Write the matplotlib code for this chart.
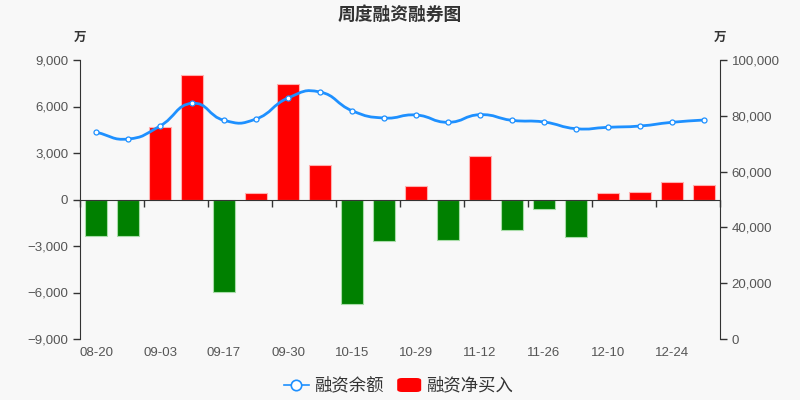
import matplotlib
matplotlib.use("Agg")
import matplotlib.pyplot as plt
import numpy as np
from matplotlib.path import Path
from matplotlib.patches import PathPatch, FancyBboxPatch
from matplotlib.lines import Line2D
from matplotlib.ticker import FuncFormatter, FixedLocator
import matplotlib.transforms as mtransforms

plt.rcParams['font.family'] = ['Liberation Sans', 'Noto Sans CJK SC', 'DejaVu Sans']

dates = ["08-20", "08-27", "09-03", "09-10", "09-17", "09-24", "09-30", "10-08",
         "10-15", "10-22", "10-29", "11-05", "11-12", "11-19", "11-26", "12-03",
         "12-10", "12-17", "12-24", "12-31"]
net_buy = [-2330, -2350, 4680, 8030, -5990, 400, 7450, 2230,
           -6760, -2660, 870, -2640, 2810, -1990, -630, -2400,
           420, 480, 1150, 940]
balance = [74090, 71680, 76340, 84480, 78380, 78850, 86380, 88530,
           81830, 79210, 80290, 77670, 80400, 78380, 77780, 75380,
           75880, 76340, 77670, 78490]

BG = "#f8f8f8"
fig = plt.figure(figsize=(8, 4), dpi=100, facecolor=BG)
ax = fig.add_axes([0.1, 0.1525, 0.8, 0.6975], facecolor=BG)
ax2 = ax.twinx()

x = np.arange(len(dates))
colors = ["#ff0000" if v >= 0 else "#008000" for v in net_buy]
edges = ["#ffb0b0" if v >= 0 else "#a8dca8" for v in net_buy]
ax.bar(x, net_buy, width=0.69, color=colors, edgecolor=edges, linewidth=0.8, zorder=2)
ax.set_xlim(-0.5, len(dates) - 0.5)
ax.set_ylim(-9000, 9000)
ax2.set_ylim(0, 100000)

fmt = FuncFormatter(lambda v, p: f"{v:,.0f}".replace('-', '\u2212'))
ax.yaxis.set_major_locator(FixedLocator(np.arange(-9000, 9001, 3000)))
ax.yaxis.set_major_formatter(fmt)
ax2.yaxis.set_major_locator(FixedLocator(np.arange(0, 100001, 20000)))
ax2.yaxis.set_major_formatter(fmt)

for a in (ax, ax2):
    a.tick_params(axis='y', colors='#333333', labelcolor='#555555', labelsize=9.5, length=5, width=1)
    for s in a.spines.values():
        s.set_visible(False)
ax.spines['left'].set_visible(True)
ax.spines['left'].set_color('#333333')
ax2.spines['right'].set_visible(True)
ax2.spines['right'].set_color('#333333')

# x axis at zero
ax.spines['bottom'].set_visible(True)
ax.spines['bottom'].set_position(('data', 0))
ax.spines['bottom'].set_color('#333333')
ax.set_xticks(np.arange(-0.5, len(dates), 2))
ax.tick_params(axis='x', colors='#333333', length=5, width=1, labelbottom=False)
trans = mtransforms.blended_transform_factory(ax.transData, ax.transAxes)
for i in range(0, len(dates), 2):
    ax.text(x[i], -0.027, dates[i], transform=trans, ha='center', va='top',
            fontsize=9.5, color='#555555')

# smooth line (ECharts-like bezier)
pts = np.column_stack([x.astype(float), np.array(balance, dtype=float)])
verts = [tuple(pts[0])]
codes = [Path.MOVETO]
sm = 0.5
n = len(pts)
def ctrl(i):
    prev = pts[max(i - 1, 0)]
    nxt = pts[min(i + 1, n - 1)]
    v = (nxt - prev) * sm
    d0 = abs(pts[i][0] - prev[0])
    d1 = abs(nxt[0] - pts[i][0])
    s = d0 + d1
    return pts[i] - v * d0 / s, pts[i] + v * d1 / s
for i in range(n - 1):
    _, c1 = ctrl(i)
    c2, _ = ctrl(i + 1)
    verts += [tuple(c1), tuple(c2), tuple(pts[i + 1])]
    codes += [Path.CURVE4] * 3
patch = PathPatch(Path(verts, codes), facecolor='none', edgecolor='#1e90ff', lw=2, zorder=3)
ax2.add_patch(patch)
ax2.plot(x, balance, linestyle='none', marker='o', markersize=3.6, markerfacecolor='white',
         markeredgecolor='#1e90ff', markeredgewidth=0.9, zorder=4)

# unit labels
fig.text(0.1, 0.905, "万", ha='center', va='center', fontsize=9, color='#333333', fontweight='bold')
fig.text(0.9, 0.905, "万", ha='center', va='center', fontsize=9, color='#333333', fontweight='bold')

fig.text(0.5, 0.962, "周度融资融券图", ha='center', va='center', fontsize=12.8,
         color='#333333', fontweight='bold')

# legend
ly = 0.0375
fig.add_artist(Line2D([0.355, 0.386], [ly, ly], transform=fig.transFigure, color='#1e90ff', lw=1.2))
fig.add_artist(Line2D([0.3705], [ly], transform=fig.transFigure, marker='o', markersize=7.5,
                      markerfacecolor='white', markeredgecolor='#1e90ff', markeredgewidth=1.2))
fig.text(0.392, ly, "融资余额", ha='left', va='center', fontsize=12.5, color='#333333')
fig.add_artist(FancyBboxPatch((0.4965, ly - 0.0175), 0.03, 0.035,
                              boxstyle="round,pad=0,rounding_size=0.006",
                              transform=fig.transFigure, facecolor='#ff0000', edgecolor='none'))
fig.text(0.532, ly, "融资净买入", ha='left', va='center', fontsize=12.5, color='#333333')

fig.savefig("out.png", dpi=100, facecolor=BG)
